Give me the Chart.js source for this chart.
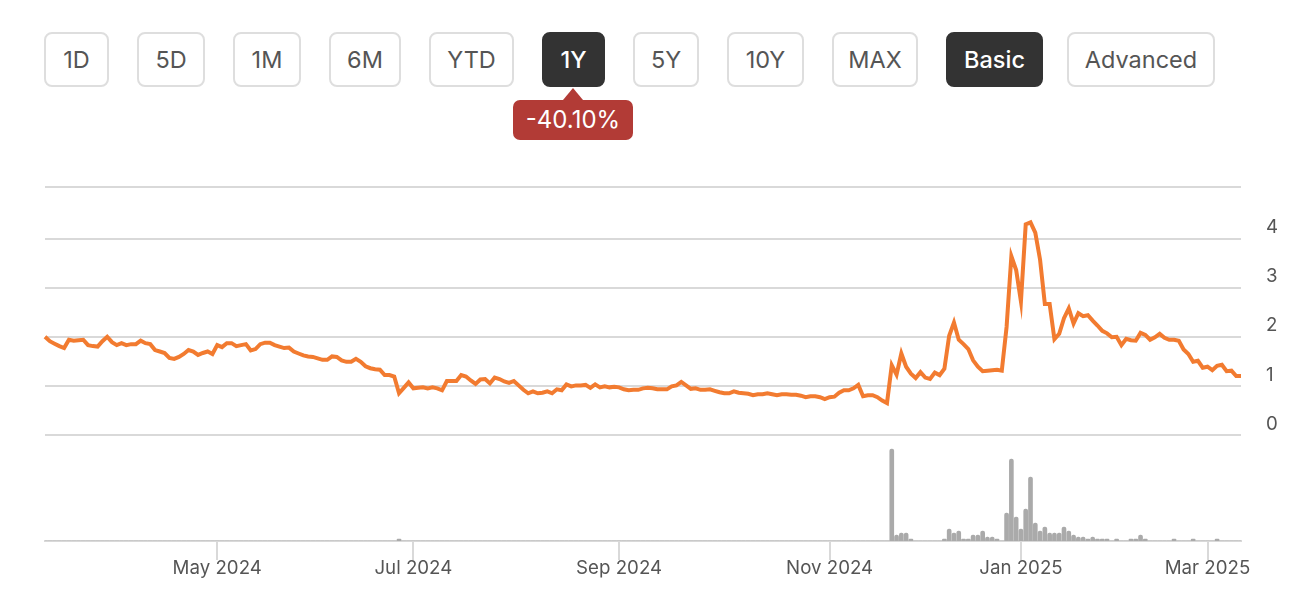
<!DOCTYPE html>
<html>
<head>
<meta charset="utf-8">
<script src="https://cdn.jsdelivr.net/npm/chart.js@4"></script>
<style>
  html, body { margin: 0; padding: 0; background: #fff; }
  body { width: 1298px; height: 600px; position: relative; overflow: hidden; font-family: Inter, "Noto Sans", sans-serif; }
  #priceChart { position: absolute; left: 0; top: 0; }
  .btn {
    position: absolute; top: 32px; height: 55px; box-sizing: border-box;
    border: 2px solid #dedede; border-radius: 8px; background: #fff; color: #555;
    font-size: 23.5px; line-height: 51px; text-align: center;
  }
  .btn.on { background: #333; border-color: #333; color: #fff; font-weight: 500; }
  #change {
    position: absolute; left: 513px; top: 100px; width: 120px; height: 40px;
    background: #b23b36; color: #fff; border-radius: 7px;
    font-size: 24px; line-height: 40px; text-align: center;
  }
  #change:before {
    content: ""; position: absolute; left: 50px; top: -12px;
    border-left: 10px solid transparent; border-right: 10px solid transparent;
    border-bottom: 12px solid #b23b36;
  }
</style>
</head>
<body>
<div class="btn" style="left:44px;width:65px">1D</div>
<div class="btn" style="left:137px;width:68px">5D</div>
<div class="btn" style="left:233px;width:68px">1M</div>
<div class="btn" style="left:329px;width:72px">6M</div>
<div class="btn" style="left:429px;width:85px">YTD</div>
<div class="btn on" style="left:542px;width:63px">1Y</div>
<div class="btn" style="left:633px;width:66px">5Y</div>
<div class="btn" style="left:727px;width:77px">10Y</div>
<div class="btn" style="left:832px;width:86px">MAX</div>
<div class="btn on" style="left:946px;width:97px">Basic</div>
<div class="btn" style="left:1067px;width:148px">Advanced</div>
<div id="change">-40.10%</div>
<canvas id="priceChart" width="1298" height="600"></canvas>

<script>
// trading days per month, the axis is by trading day and not by calendar
const months = ['Mar 2024','Apr 2024','May 2024','Jun 2024','Jul 2024','Aug 2024','Sep 2024','Oct 2024','Nov 2024','Dec 2024','Jan 2025','Feb 2025','Mar 2025'];
const monthDays = [15,21,21,20,22,21,21,23,20,20,20,19,8];
const tickMonths = ['May 2024','Jul 2024','Sep 2024','Nov 2024','Jan 2025','Mar 2025'];

// labelled price ticks, the top line of the panel sits a little above 5
const priceTicks = [0,1,2,3,4];
const priceTop = 5.05;

const prices = [
  2.00,1.91,1.86,1.81,1.77,1.94,1.92,1.93,1.94,1.83,
  1.81,1.80,1.91,2.00,1.89,1.83,1.87,1.83,1.85,1.85,
  1.92,1.87,1.85,1.73,1.70,1.67,1.57,1.55,1.59,1.65,
  1.73,1.70,1.63,1.67,1.70,1.65,1.83,1.79,1.87,1.87,
  1.81,1.83,1.85,1.72,1.75,1.85,1.88,1.88,1.83,1.80,
  1.77,1.78,1.70,1.66,1.62,1.60,1.59,1.56,1.53,1.53,
  1.60,1.59,1.52,1.49,1.49,1.55,1.49,1.40,1.36,1.34,
  1.33,1.22,1.22,1.19,0.85,0.96,1.07,0.95,0.96,0.97,
  0.95,0.97,0.95,0.91,1.10,1.10,1.10,1.22,1.19,1.11,
  1.04,1.13,1.14,1.05,1.17,1.14,1.09,1.06,1.10,1.01,
  0.92,0.85,0.89,0.85,0.86,0.89,0.85,0.93,0.91,1.03,
  0.99,1.01,1.01,1.02,0.96,1.03,0.97,0.99,0.97,0.98,
  0.97,0.93,0.91,0.92,0.92,0.95,0.96,0.95,0.93,0.93,
  0.93,0.99,1.01,1.08,1.01,0.94,0.95,0.92,0.92,0.93,
  0.90,0.87,0.85,0.85,0.89,0.86,0.85,0.84,0.81,0.83,
  0.83,0.85,0.83,0.81,0.83,0.83,0.82,0.82,0.80,0.77,
  0.79,0.79,0.77,0.73,0.77,0.78,0.86,0.91,0.91,0.95,
  1.02,0.79,0.81,0.81,0.77,0.70,0.65,1.42,1.23,1.66,
  1.39,1.25,1.16,1.28,1.17,1.14,1.27,1.22,1.35,2.02,
  2.29,1.94,1.85,1.75,1.52,1.39,1.30,1.31,1.32,1.33,
  1.31,2.20,3.64,3.36,2.72,4.29,4.33,4.12,3.57,2.67,
  2.67,1.95,2.06,2.38,2.58,2.27,2.48,2.42,2.44,2.33,
  2.23,2.12,2.07,1.99,2.00,1.83,1.96,1.93,1.92,2.08,
  2.04,1.94,1.99,2.06,1.98,1.94,1.94,1.92,1.74,1.65,
  1.49,1.51,1.37,1.39,1.32,1.41,1.43,1.30,1.31,1.20,1.20
];

const volumes = [
  0,0,0,0,0,0,0,0,0,0, 0,0,0,0,0,0,0,0,0,0,
  0,0,0,0,0,0,0,0,0,0, 0,0,0,0,0,0,0,0,0,0,
  0,0,0,0,0,0,0,0,0,0, 0,0,0,0,0,0,0,0,0,0,
  0,0,0,0,0,0,0,0,0,0, 0,0,0,0,1,0,0,0,0,0,
  0,0,0,0,0,0,0,0,0,0, 0,0,0,0,0,0,0,0,0,0,
  0,0,0,0,0,0,0,0,0,0, 0,0,0,0,0,0,0,0,0,0,
  0,0,0,0,0,0,0,0,0,0, 0,0,0,0,0,0,0,0,0,0,
  0,0,0,0,0,0,0,0,0,0, 0,0,0,0,0,0,0,0,0,0,
  0,0,0,0,0,0,0,0,0,0, 0,0,0,0,0,0,0,46,3,4,
  4,1,0,0,0,0,0,0,1,6, 4,5,1,1,3,3,5,2,2,1,
  0,14,41,12,6,16,32,9,5,7, 4,4,4,7,5,3,2,2,1,2,
  1,1,1,0,1,0,0,1,1,3, 1,0,0,0,0,0,1,0,0,0,
  1,0,0,0,0,1,0,0,0,0,0
];

const categories = [];
months.forEach(function(m, i) {
  for (let d = 0; d < monthDays[i]; d++) categories.push(m);
});

const lineGrey = '#d9d9d9';

new Chart(document.getElementById('priceChart'), {
  data: {
    labels: categories,
    datasets: [
      {
        type: 'line',
        data: prices,
        yAxisID: 'y',
        borderColor: '#f27b30',
        borderWidth: 4,
        pointRadius: 0,
        tension: 0,
        order: 1
      },
      {
        type: 'bar',
        data: volumes,
        yAxisID: 'yVol',
        backgroundColor: '#aaaaaa',
        barThickness: 4,
        borderRadius: { topLeft: 2, topRight: 2 },
        order: 2
      }
    ]
  },
  options: {
    responsive: false,
    animation: false,
    events: [],
    layout: { padding: { left: 45, top: 187, right: 0, bottom: 0 } },
    plugins: { legend: { display: false }, tooltip: { enabled: false } },
    scales: {
      x: {
        type: 'category',
        offset: false,
        afterBuildTicks: function(axis) {
          // one tick on the first trading day of every second month
          axis.ticks = axis.ticks.filter(function(t) {
            const m = categories[t.value];
            return tickMonths.includes(m) && categories[t.value - 1] !== m;
          });
        },
        afterFit: function(axis) { axis.height = 59; },
        border: { color: lineGrey, width: 2 },
        grid: { offset: false, drawOnChartArea: false, color: lineGrey, lineWidth: 2, tickLength: 19, tickColor: lineGrey, tickWidth: 2 },
        ticks: {
          autoSkip: false,
          maxRotation: 0,
          padding: -3,
          color: '#555',
          font: { family: 'Inter', size: 18.7 }
        }
      },
      y: {
        position: 'right',
        stack: 'main',
        stackWeight: 248,
        min: 0,
        max: priceTop,
        afterBuildTicks: function(axis) {
          axis.ticks = priceTicks.concat(priceTop).map(function(v) { return { value: v }; });
        },
        afterFit: function(axis) { axis.width = 57; },
        border: { display: false },
        grid: { color: lineGrey, lineWidth: 2, drawTicks: false },
        ticks: {
          padding: 25,
          labelOffset: -11,
          color: '#555',
          font: { family: 'Inter', size: 18.7 },
          callback: function(v) { return priceTicks.includes(v) ? v : ''; }
        }
      },
      yVol: {
        position: 'right',
        stack: 'main',
        stackWeight: 106,
        min: 0,
        max: 53,
        afterFit: function(axis) { axis.width = 57; },
        border: { display: false },
        grid: { display: false },
        ticks: { display: false }
      }
    }
  }
});
</script>
</body>
</html>
